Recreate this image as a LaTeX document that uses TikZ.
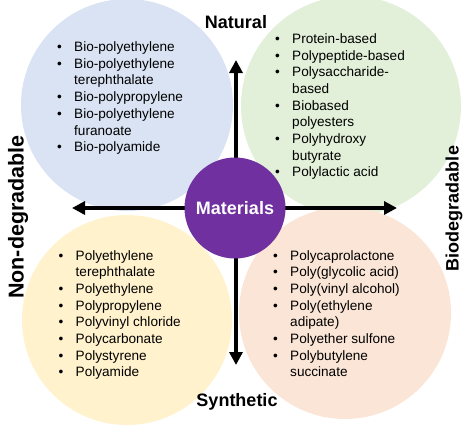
\documentclass[tikz,border=0pt]{standalone}
\usepackage{fontspec}
\setmainfont{Liberation Sans}
\usetikzlibrary{arrows.meta}
\definecolor{cblue}{RGB}{218,227,243}
\definecolor{cgreen}{RGB}{226,240,217}
\definecolor{cyellow}{RGB}{255,242,204}
\definecolor{cpink}{RGB}{251,229,214}
\definecolor{cpurple}{RGB}{112,48,160}
\newcommand\bl[1]{\hbox{\makebox[17pt][l]{•}#1}}
\newcommand\cl[1]{\hbox{\hspace{17pt}#1}}
\newcommand\lst[1]{\vtop{\fontsize{13.6}{16.7}\selectfont #1}}
\tikzset{
  quad/.style={circle, minimum size=#1, inner sep=0pt, draw=none},
  listtxt/.style={anchor=base west, inner sep=0pt},
  axislabel/.style={font=\bfseries\fontsize{18}{20}\selectfont, inner sep=0pt},
  axisarrow/.style={line width=3.5pt, {Triangle[length=13pt,width=13pt]}-{Triangle[length=13pt,width=13pt]}},
}
\begin{document}
\begin{tikzpicture}[x=1pt,y=-1pt]
\useasboundingbox (0,0) rectangle (474,424);
\node[quad=212pt, fill=cblue] (tl) at (127,105) {};
\node[quad=220pt, fill=cgreen] (tr) at (351,106) {};
\node[quad=210pt, fill=cyellow] (bl) at (127,320) {};
\node[quad=212pt, fill=cpink] (br) at (345,313) {};

\node[listtxt] (tlt) at (57,51.5) {\lst{\bl{Bio-polyethylene}\bl{Bio-polyethylene}\cl{terephthalate}\bl{Bio-polypropylene}\bl{Bio-polyethylene}\cl{furanoate}\bl{Bio-polyamide}}};
\node[listtxt] (trt) at (275,43.3) {\lst{\bl{Protein-based}\bl{Polypeptide-based}\bl{Polysaccharide-}\cl{based}\bl{Biobased}\cl{polyesters}\bl{Polyhydroxy}\cl{butyrate}\bl{Polylactic acid}}};
\node[listtxt] (blt) at (58.5,260) {\lst{\bl{Polyethylene}\cl{terephthalate}\bl{Polyethylene}\bl{Polypropylene}\bl{Polyvinyl chloride}\bl{Polycarbonate}\bl{Polystyrene}\bl{Polyamide}}};
\node[listtxt] (brt) at (273,260) {\lst{\bl{Polycaprolactone}\bl{Poly(glycolic acid)}\bl{Poly(vinyl alcohol)}\bl{Poly(ethylene}\cl{adipate)}\bl{Polyether sulfone}\bl{Polybutylene}\cl{succinate}}};

\coordinate (atop) at (236,60);
\coordinate (abot) at (236,365);
\coordinate (aleft) at (72,208);
\coordinate (aright) at (397,208);
\draw[axisarrow] (aleft) -- (aright);
\draw[axisarrow] (abot) -- (atop);

\node[quad=101pt, fill=cpurple, text=white, font=\bfseries\fontsize{18}{20}\selectfont] (mat) at (235,208) {Materials};

\node[axislabel] (nat) at (236,22) {Natural};
\node[axislabel] (syn) at (237,402) {Synthetic};
\node[axislabel, rotate=90, font=\bfseries\fontsize{21.5}{24}\selectfont] (nond) at (18,217) {Non-degradable};
\node[axislabel, rotate=90] (biod) at (454,208.5) {Biodegradable};
\end{tikzpicture}
\end{document}
